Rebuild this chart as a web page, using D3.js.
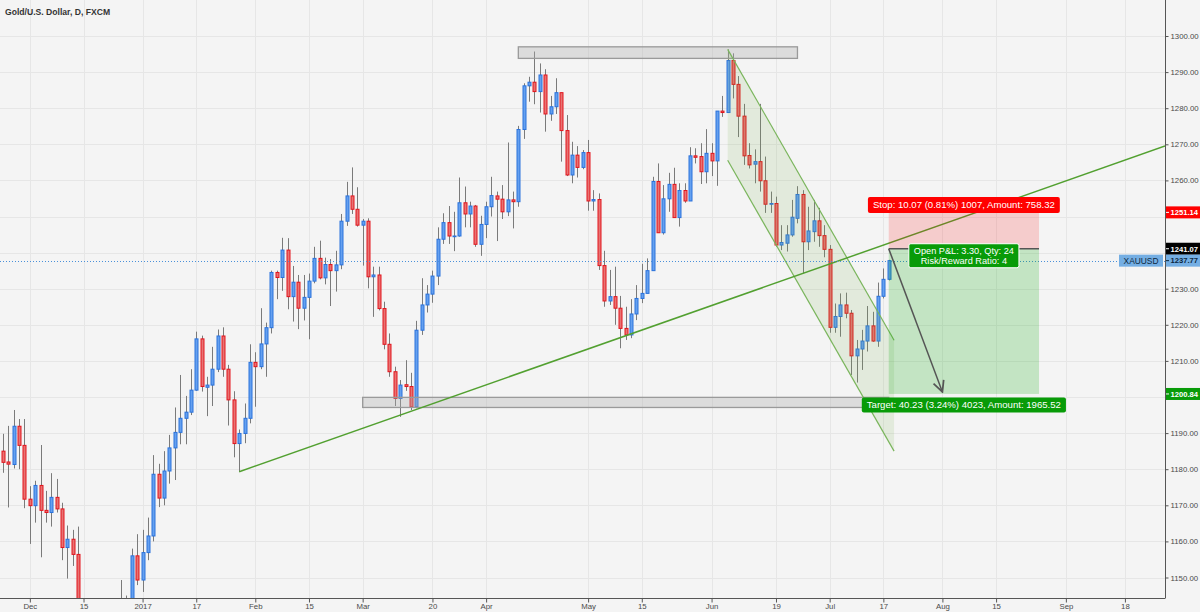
<!DOCTYPE html>
<html><head><meta charset="utf-8">
<script src="https://cdn.jsdelivr.net/npm/d3@7"></script>
<style>html,body{margin:0;padding:0;background:#f4f4f4;}svg{display:block;}</style>
</head><body>
<svg id="chart" width="1200" height="612"></svg>
<script>
// ---------- DATA ----------
const title = "Gold/U.S. Dollar, D, FXCM";
const firstDate = "2016-11-24";
const holidays = ["2016-12-26", "2017-01-02", "2017-04-14"];
const open = [1185.0,1182.0,1181.3,1191.9,1186.6,1171.7,1169.9,1175.5,1168.6,1168.0,1172.2,1169.0,1158.3,1160.6,1156.4,1142.0,1129.0,1134.0,1139.0,1128.0,1132.0,1130.0,1133.0,1139.0,1141.0,1156.0,1149.3,1156.9,1161.5,1178.6,1172.0,1179.5,1185.9,1190.2,1194.1,1195.8,1201.9,1216.1,1202.7,1203.3,1207.7,1216.9,1207.7,1199.2,1187.1,1189.9,1194.1,1209.6,1208.4,1214.7,1219.2,1234.5,1233.1,1240.7,1227.8,1231.8,1224.6,1227.6,1232.1,1238.4,1233.0,1236.7,1235.0,1236.6,1248.7,1255.7,1252.0,1247.6,1248.7,1233.3,1233.8,1224.5,1214.6,1207.0,1199.6,1203.4,1202.9,1197.3,1218.5,1225.5,1228.5,1233.5,1243.7,1248.3,1244.4,1244.6,1253.8,1250.7,1252.9,1242.3,1247.8,1252.7,1255.7,1254.8,1251.3,1254.6,1254.1,1274.1,1286.2,1287.2,1284.6,1289.2,1278.4,1280.4,1284.3,1273.8,1261.5,1267.0,1263.6,1267.7,1254.3,1254.7,1236.4,1226.6,1227.8,1224.6,1219.0,1217.2,1223.0,1227.3,1228.7,1235.0,1259.7,1245.5,1254.9,1258.9,1249.7,1257.2,1254.3,1266.8,1266.6,1262.4,1267.5,1265.4,1279.2,1278.8,1293.2,1286.6,1277.8,1266.9,1264.5,1265.2,1259.9,1253.4,1253.6,1242.1,1242.6,1244.9,1249.5,1256.1,1243.0,1245.8,1248.8,1244.7,1240.9,1219.3,1222.3,1225.5,1223.2,1211.4,1213.3,1215.5,1219.7,1215.5,1227.9,1232.6];
const high = [1189.8,1192.0,1196.4,1193.9,1193.9,1175.3,1176.8,1186.7,1174.0,1178.9,1177.3,1170.7,1164.4,1163.2,1164.1,1144.0,1140.0,1143.0,1140.0,1136.0,1135.0,1137.0,1149.3,1145.0,1158.0,1162.0,1163.2,1166.6,1183.9,1181.5,1185.0,1189.5,1197.1,1206.1,1200.3,1207.7,1218.1,1217.0,1205.6,1213.9,1218.7,1219.3,1208.9,1201.6,1191.0,1198.2,1214.6,1212.4,1224.6,1220.6,1235.0,1235.0,1244.1,1244.0,1236.3,1233.8,1233.8,1234.2,1241.6,1243.3,1238.6,1238.2,1240.5,1250.7,1259.6,1263.6,1258.1,1249.3,1249.5,1236.1,1236.1,1226.4,1217.6,1208.4,1204.7,1210.2,1206.7,1221.1,1232.9,1231.0,1235.0,1247.0,1250.9,1252.9,1251.3,1260.8,1258.3,1254.1,1253.2,1250.2,1254.1,1261.0,1256.9,1258.7,1270.5,1256.9,1275.1,1286.9,1288.7,1295.7,1292.4,1290.8,1283.4,1288.3,1284.3,1278.1,1270.7,1269.5,1268.4,1271.2,1257.3,1256.4,1240.5,1235.2,1236.1,1228.0,1225.0,1227.1,1231.0,1236.9,1238.4,1261.0,1264.7,1258.7,1262.1,1263.5,1259.2,1259.2,1269.2,1268.9,1270.3,1274.2,1270.3,1279.2,1283.4,1296.3,1295.2,1288.9,1281.2,1270.3,1268.6,1281.2,1266.6,1256.9,1255.5,1247.6,1247.6,1254.6,1258.4,1257.3,1252.7,1254.6,1252.4,1247.6,1242.1,1225.9,1228.7,1228.9,1224.1,1215.8,1218.6,1225.2,1223.6,1231.7,1235.6,1238.0];
const low = [1179.0,1169.4,1180.2,1180.0,1169.2,1159.3,1165.2,1155.6,1165.2,1164.1,1168.0,1154.8,1149.7,1153.2,1140.0,1124.0,1127.0,1131.0,1125.0,1124.0,1122.0,1128.0,1131.0,1136.0,1139.0,1147.9,1146.0,1154.8,1160.0,1169.5,1170.0,1176.0,1177.0,1186.9,1186.9,1195.0,1201.7,1201.5,1194.7,1197.5,1206.9,1205.6,1192.1,1183.3,1179.3,1187.2,1192.7,1197.3,1207.7,1205.6,1217.6,1227.1,1229.4,1224.3,1220.9,1218.8,1221.2,1216.0,1231.5,1232.6,1231.2,1225.2,1229.2,1235.4,1247.4,1250.7,1247.2,1236.4,1230.1,1222.2,1224.0,1213.2,1205.6,1197.5,1194.5,1201.7,1196.4,1196.9,1217.2,1223.4,1226.1,1231.0,1242.4,1242.4,1240.4,1244.4,1247.0,1247.0,1241.6,1239.1,1244.0,1250.0,1243.2,1249.3,1250.1,1246.7,1252.7,1271.5,1281.8,1281.1,1278.8,1273.5,1276.5,1278.4,1265.2,1261.2,1259.2,1260.8,1263.1,1251.6,1251.6,1235.2,1225.0,1225.5,1220.0,1213.5,1215.8,1216.3,1221.3,1226.0,1228.7,1235.0,1245.5,1245.0,1251.3,1249.7,1247.2,1253.8,1254.3,1264.7,1259.0,1259.2,1261.2,1258.5,1277.6,1278.8,1282.7,1272.0,1264.3,1263.3,1259.2,1256.9,1251.0,1251.0,1241.6,1240.7,1240.3,1244.4,1248.1,1234.3,1240.7,1243.0,1241.6,1238.7,1217.8,1217.8,1216.7,1221.8,1206.1,1204.0,1207.5,1212.6,1215.3,1213.9,1227.3,1232.3];
const close = [1181.9,1181.4,1191.9,1186.6,1171.7,1169.9,1175.5,1168.6,1168.0,1172.2,1169.0,1158.3,1160.6,1156.4,1142.0,1129.0,1134.0,1139.0,1128.0,1132.0,1130.0,1133.0,1139.0,1141.0,1156.0,1149.3,1156.9,1161.5,1178.6,1172.0,1179.5,1185.9,1190.2,1194.1,1195.8,1201.9,1216.1,1202.9,1203.3,1207.7,1216.9,1207.7,1199.2,1187.1,1189.9,1194.1,1209.6,1208.4,1214.7,1219.2,1234.5,1233.1,1240.7,1227.8,1231.8,1224.6,1227.6,1232.1,1238.4,1233.0,1236.7,1235.0,1236.6,1248.7,1255.7,1252.0,1247.6,1248.7,1233.3,1233.8,1224.5,1214.6,1207.0,1199.6,1203.3,1202.9,1197.3,1218.5,1225.5,1228.5,1233.5,1243.7,1248.3,1244.6,1244.6,1253.8,1250.7,1252.9,1242.3,1247.8,1252.7,1255.8,1254.8,1251.3,1254.6,1254.1,1274.1,1286.2,1287.2,1284.6,1289.2,1278.4,1280.4,1284.3,1273.8,1261.5,1267.0,1263.6,1267.7,1254.3,1254.7,1236.4,1226.6,1227.8,1224.6,1219.0,1217.2,1223.0,1227.3,1228.7,1235.0,1259.7,1245.5,1254.9,1258.9,1249.7,1257.2,1254.3,1266.8,1266.4,1262.4,1267.5,1265.4,1279.2,1278.8,1293.2,1286.6,1277.8,1266.8,1264.3,1265.2,1259.9,1253.4,1253.6,1242.1,1242.8,1244.9,1249.8,1256.1,1243.0,1246.0,1248.8,1244.7,1240.9,1219.3,1222.3,1225.5,1223.2,1211.4,1213.3,1215.5,1219.7,1215.5,1227.9,1232.6,1237.77];

const tickDates = ["2016-12-01","2016-12-15","2017-01-03","2017-01-17","2017-02-01","2017-02-15","2017-03-01","2017-03-20","2017-04-03","2017-05-01","2017-05-15","2017-06-01","2017-06-19","2017-07-03","2017-07-17","2017-08-01","2017-08-15","2017-09-01","2017-09-18"];
const tickLabels = ["Dec","15","2017","17","Feb","15","Mar","20","Apr","May","15","Jun","19","Jul","17","Aug","15","Sep","18"];
const priceTicks = [1150,1160,1170,1180,1190,1200,1210,1220,1230,1240,1250,1260,1270,1280,1290,1300];

// drawings (date, price anchors)
const trendLine = [["2017-01-27",1179.3],["2017-07-18",1242.6]];
const channelTop = [["2017-06-06",1296.3],["2017-07-19",1215.7]];
const channelWidth = 30.7;
const zoneFrom = ["2017-04-11","2017-03-01"];
const zoneTo = ["2017-06-23","2017-07-18"];
const zoneTop = [1297.0,1199.9];
const zoneBottom = [1293.8,1197.1];
const positionDates = ["2017-07-18","2017-08-25"];
const entryPrice = 1241.07, stopPrice = 1251.14, targetPrice = 1200.84, lastPrice = 1237.77;
const arrowPts = [["2017-07-18",1241.07],["2017-08-01",1201.4]];
const stopText = "Stop: 10.07 (0.81%) 1007, Amount: 758.32";
const pnlText = ["Open P&L: 3.30, Qty: 24","Risk/Reward Ratio: 4"];
const targetText = "Target: 40.23 (3.24%) 4023, Amount: 1965.52";
const symbol = "XAUUSD";

// ---------- BUILD ----------
const dateIndex = {};
(function(){
  let d = new Date(firstDate+"T12:00:00Z"), i = 0;
  while (i < 240) {
    const wd = d.getUTCDay(), s = d.toISOString().slice(0,10);
    if (wd !== 0 && wd !== 6 && !holidays.includes(s)) { dateIndex[s] = i; i++; }
    d.setUTCDate(d.getUTCDate()+1);
  }
})();
const idx = s => dateIndex[s];

const W = 1200, H = 612, plotR = 1165, plotB = 598;
const FONT = "'Liberation Sans', Arial, sans-serif";
const x = d3.scaleLinear().domain([0, 217]).range([3, 3 + 217*5.368]);
const y = d3.scaleLinear().domain([1150, 1300]).range([577.5, 36]);

const svg = d3.select("#chart");
svg.append("rect").attr("width",W).attr("height",H).attr("fill","#f4f4f4");
const defs = svg.append("defs");
defs.append("clipPath").attr("id","plot").append("rect").attr("x",0).attr("y",0).attr("width",plotR).attr("height",plotB);
defs.append("marker").attr("id","arrow").attr("viewBox","0 0 10 10").attr("refX",9).attr("refY",5)
  .attr("markerWidth",9).attr("markerHeight",9).attr("orient","auto-start-reverse")
  .append("path").attr("d","M1,1 L9,5 L1,9").attr("fill","none").attr("stroke","#555").attr("stroke-width",1.3);

const g = svg.append("g").attr("clip-path","url(#plot)");

// grid
g.append("g").selectAll("line").data(priceTicks).join("line")
  .attr("x1",0).attr("x2",plotR).attr("y1",d=>Math.round(y(d))+0.5).attr("y2",d=>Math.round(y(d))+0.5)
  .attr("stroke","#e6e6e6");
g.append("g").selectAll("line").data(tickDates).join("line")
  .attr("y1",0).attr("y2",plotB).attr("x1",d=>Math.round(x(idx(d)))+0.5).attr("x2",d=>Math.round(x(idx(d)))+0.5)
  .attr("stroke","#e6e6e6");

// candles
const bars = d3.range(open.length).map(i=>({i,o:open[i],h:high[i],l:low[i],c:close[i]}));
const cg = g.append("g");
cg.selectAll("line").data(bars).join("line")
  .attr("x1",d=>Math.round(x(d.i))+0.5).attr("x2",d=>Math.round(x(d.i))+0.5)
  .attr("y1",d=>y(d.h)).attr("y2",d=>y(d.l)).attr("stroke","#7a7a7a").attr("stroke-width",1);
cg.selectAll("rect").data(bars).join("rect")
  .attr("x",d=>Math.round(x(d.i))-1).attr("width",3)
  .attr("y",d=>y(Math.max(d.o,d.c))).attr("height",d=>Math.max(0.6,Math.abs(y(d.o)-y(d.c))))
  .attr("fill",d=>d.c>=d.o?"#65a0ef":"#e77373")
  .attr("stroke",d=>d.c>=d.o?"#2a72dc":"#e3141c").attr("stroke-width",1);

// zones
const zones = zoneFrom.map((f,k)=>({f,t:zoneTo[k],top:zoneTop[k],bot:zoneBottom[k]}));
g.append("g").selectAll("rect").data(zones).join("rect")
  .attr("x",d=>x(idx(d.f))).attr("width",d=>x(idx(d.t))-x(idx(d.f)))
  .attr("y",d=>y(d.top)).attr("height",d=>y(d.bot)-y(d.top))
  .attr("fill","rgba(175,175,175,0.35)").attr("stroke","#9a9a9a").attr("stroke-width",1.3);

// channel
const c0 = [idx(channelTop[0][0]), channelTop[0][1]], c1 = [idx(channelTop[1][0]), channelTop[1][1]];
const chPoly = [[c0[0],c0[1]],[c1[0],c1[1]],[c1[0],c1[1]-channelWidth],[c0[0],c0[1]-channelWidth]];
g.append("path").attr("d", d3.line().x(p=>x(p[0])).y(p=>y(p[1]))(chPoly)+"Z")
  .attr("fill","rgba(120,180,80,0.14)").attr("stroke","none");
[[c0,c1],[[c0[0],c0[1]-channelWidth],[c1[0],c1[1]-channelWidth]]].forEach(seg=>{
  g.append("line").attr("x1",x(seg[0][0])).attr("y1",y(seg[0][1])).attr("x2",x(seg[1][0])).attr("y2",y(seg[1][1]))
   .attr("stroke","#7ab55c").attr("stroke-width",1.2);
});

// trend line (extended right)
const t0 = [idx(trendLine[0][0]), trendLine[0][1]], t1 = [idx(trendLine[1][0]), trendLine[1][1]];
const slope = (t1[1]-t0[1])/(t1[0]-t0[0]);
const tEnd = x.invert(plotR);
g.append("line").attr("x1",x(t0[0])).attr("y1",y(t0[1])).attr("x2",x(tEnd)).attr("y2",y(t0[1]+slope*(tEnd-t0[0])))
  .attr("stroke","#52a030").attr("stroke-width",1.5);

// last price dotted line
g.append("line").attr("x1",0).attr("x2",plotR).attr("y1",Math.round(y(lastPrice))+0.5).attr("y2",Math.round(y(lastPrice))+0.5)
  .attr("stroke","#4a90d9").attr("stroke-dasharray","1,2").attr("stroke-width",1);

// position tool
const px0 = x(idx(positionDates[0])), px1 = x(idx(positionDates[1]));
g.append("rect").attr("x",px0).attr("width",px1-px0).attr("y",y(stopPrice)).attr("height",y(entryPrice)-y(stopPrice))
  .attr("fill","rgba(255,0,0,0.16)");
g.append("rect").attr("x",px0).attr("width",px1-px0).attr("y",y(entryPrice)).attr("height",y(targetPrice)-y(entryPrice))
  .attr("fill","rgba(0,165,0,0.2)");
g.append("line").attr("x1",px0).attr("x2",px1).attr("y1",y(entryPrice)).attr("y2",y(entryPrice))
  .attr("stroke","#555").attr("stroke-width",1.5);
g.append("line").attr("x1",x(idx(arrowPts[0][0]))).attr("y1",y(arrowPts[0][1]))
  .attr("x2",x(idx(arrowPts[1][0]))).attr("y2",y(arrowPts[1][1]))
  .attr("stroke","#555").attr("stroke-width",1.5).attr("marker-end","url(#arrow)");

// labels of the position
function labelBox(lines, cx, cy, fill, stroke, fs, lh){
  const lg = svg.append("g");
  const t = lg.append("text").attr("font-family",FONT).attr("font-size",fs).attr("fill","#fff").attr("text-anchor","middle");
  lines.forEach((s,k)=>t.append("tspan").attr("x",cx).attr("y",cy + (k-(lines.length-1)/2)*lh + fs*0.36).text(s));
  const bb = t.node().getBBox();
  const hh = lines.length*lh + 4;
  lg.insert("rect","text").attr("x",bb.x-5).attr("y",cy-hh/2).attr("width",bb.width+10)
    .attr("height",hh).attr("rx",2).attr("fill",fill).attr("stroke",stroke||"none").attr("stroke-width",1);
}
const pcx = (px0+px1)/2;
labelBox([stopText], pcx, y(stopPrice)-7.5, "#ff0000", null, 9.6, 12);
labelBox(pnlText, pcx, y(entryPrice)+7, "#089b08", "#ffffff", 9.2, 10);
labelBox([targetText], pcx, y(targetPrice)+11, "#089b08", null, 9.6, 11);

// axes
const hiddenTicks = [1200,1240,1250];
const yAxis = d3.axisRight(y).tickValues(priceTicks).tickFormat(d=>hiddenTicks.includes(d)?"":d3.format(".2f")(d)).tickSize(3).tickPadding(2);
const ya = svg.append("g").attr("transform",`translate(${plotR+0.5},0)`).call(yAxis);
ya.select(".domain").attr("stroke","#555").attr("d",`M0,0V${plotB}`);
ya.selectAll(".tick line").attr("stroke","#555");
ya.selectAll("text").attr("font-family",FONT).attr("font-size",7.8).attr("fill","#4a4a4a");

const xAxis = d3.axisBottom(x).tickValues(tickDates.map(idx)).tickFormat((d,k)=>tickLabels[k]).tickSize(4).tickPadding(1);
const xa = svg.append("g").attr("transform",`translate(0,${plotB+0.5})`).call(xAxis);
xa.select(".domain").attr("stroke","#555").attr("d",`M0,0H${plotR+0.5}`);
xa.selectAll(".tick line").attr("stroke","#555");
xa.selectAll("text").attr("font-family",FONT).attr("font-size",7.8).attr("fill","#4a4a4a");

// right axis price labels
function axisLabel(price, fill, color){
  const cy = y(price);
  svg.append("rect").attr("x",plotR+1).attr("y",cy-6).attr("width",W-plotR-1).attr("height",12).attr("fill",fill);
  svg.append("line").attr("x1",plotR+1).attr("x2",plotR+4).attr("y1",cy).attr("y2",cy).attr("stroke",color);
  svg.append("text").attr("x",plotR+5.5).attr("y",cy+2.8).attr("font-family",FONT).attr("font-size",7.6)
    .attr("font-weight","bold").attr("fill",color).text(d3.format(".2f")(price));
}
axisLabel(stopPrice,"#ff0000","#fff");
axisLabel(entryPrice,"#000000","#fff");
axisLabel(lastPrice,"#74aee3","#0c2740");
axisLabel(targetPrice,"#089b08","#fff");
// symbol label
svg.append("rect").attr("x",plotR-46).attr("y",y(lastPrice)-6).attr("width",44).attr("height",12).attr("fill","#74aee3");
svg.append("text").attr("x",plotR-24).attr("y",y(lastPrice)+3).attr("text-anchor","middle").attr("font-family",FONT)
  .attr("font-size",8.4).attr("fill","#0c2740").text(symbol);

// title
svg.append("text").attr("x",5).attr("y",15).attr("font-family",FONT).attr("font-size",8.6).attr("font-weight","bold")
  .attr("fill","#333").text(title);
</script>
</body></html>
